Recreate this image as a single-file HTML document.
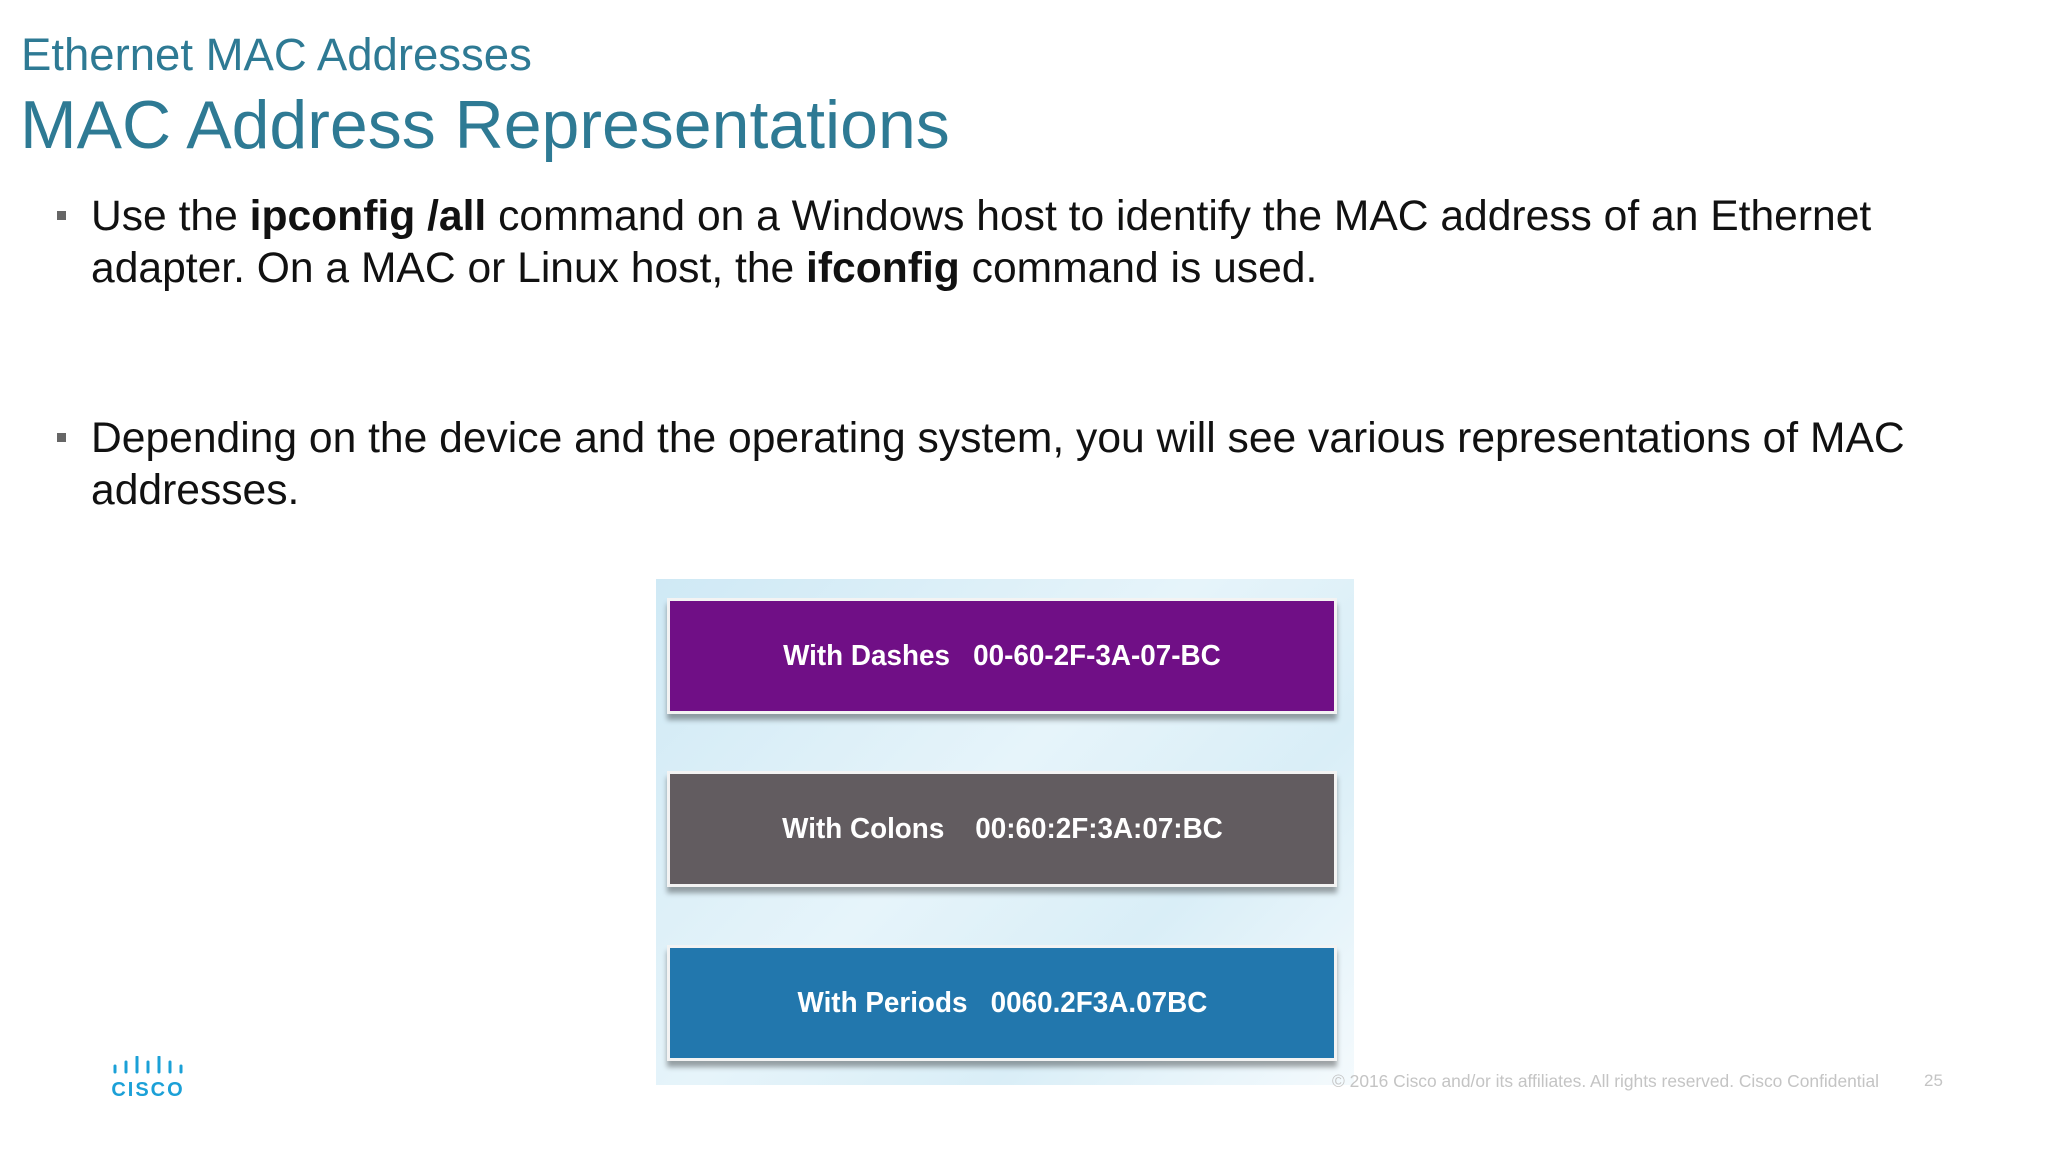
<!DOCTYPE html>
<html><head><meta charset="utf-8"><style>
body{margin:0;width:2048px;height:1152px;background:#fff;position:relative;overflow:hidden;font-family:"Liberation Sans",sans-serif}
.t{position:absolute;color:#2e7a94;white-space:nowrap}
.b{position:absolute;left:91px;font-size:42.6px;color:#111;line-height:52px;white-space:nowrap}
.sq{position:absolute;left:57px;width:9px;height:9px;background:#666}
.img{position:absolute;left:656px;top:579px;width:698px;height:506px;background:linear-gradient(135deg,#cfe9f5 0%,#e6f4fa 45%,#d9eef7 70%,#f4fafd 100%)}
.box{position:absolute;left:11px;width:664px;height:110px;border:3px solid #f3f3f3;box-shadow:0 6px 5px rgba(0,0,0,.35);color:#fff;font-size:29px;font-weight:bold;display:flex;align-items:center;justify-content:center}
.box span{display:inline-block;transform:scaleX(.96);white-space:pre}
</style></head><body>
<div class="t" style="left:21px;top:29px;font-size:45.5px">Ethernet MAC Addresses</div>
<div class="t" style="left:20px;top:86px;font-size:68px">MAC Address Representations</div>
<div class="sq" style="top:211px"></div>
<div class="b" style="top:190px">Use the <b>ipconfig /all</b> command on a Windows host to identify the MAC address of an Ethernet<br>adapter. On a MAC or Linux host, the <b>ifconfig</b> command is used.</div>
<div class="sq" style="top:433px"></div>
<div class="b" style="top:412px">Depending on the device and the operating system, you will see various representations of MAC<br>addresses.</div>
<div class="img">
<div class="box" style="top:19px;background:#700f86"><span>With Dashes   00-60-2F-3A-07-BC</span></div>
<div class="box" style="top:192px;background:#625c60"><span>With Colons    00:60:2F:3A:07:BC</span></div>
<div class="box" style="top:366px;background:#2277ad"><span>With Periods   0060.2F3A.07BC</span></div>
</div>
<div style="position:absolute;left:1332px;top:1071px;font-size:17.4px;color:#c4c4c4;white-space:nowrap">© 2016  Cisco and/or its affiliates. All rights reserved.   Cisco Confidential</div>
<div style="position:absolute;left:1924px;top:1071px;font-size:17px;color:#c4c4c4">25</div>
<svg style="position:absolute;left:112px;top:1056px" width="82" height="44">
<g stroke="#1ba0d7" stroke-width="3" stroke-linecap="round">
<line x1="3" y1="10" x2="3" y2="16"/><line x1="14" y1="6" x2="14" y2="16"/><line x1="25" y1="1" x2="25" y2="16"/><line x1="36" y1="6" x2="36" y2="16"/><line x1="47" y1="1" x2="47" y2="16"/><line x1="58" y1="6" x2="58" y2="16"/><line x1="69" y1="10" x2="69" y2="16"/>
</g>
<text x="36" y="40" text-anchor="middle" font-family="Liberation Sans" font-weight="bold" font-size="20" fill="#1ba0d7" letter-spacing="2">CISCO</text>
</svg>
</body></html>
